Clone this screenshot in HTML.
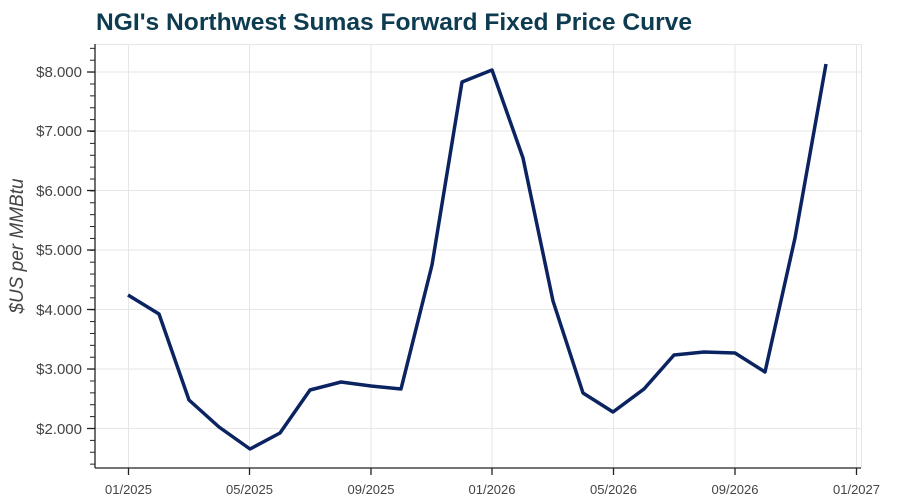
<!DOCTYPE html>
<html><head><style>
html,body{margin:0;padding:0;background:#fff;}
svg{display:block;font-family:"Liberation Sans",Arial,sans-serif;}
</style></head><body>
<svg width="900" height="502" viewBox="0 0 900 502" xmlns="http://www.w3.org/2000/svg">
<text x="96" y="30" font-size="24" font-weight="bold" fill="#0d3b4f" textLength="596" lengthAdjust="spacingAndGlyphs">NGI's Northwest Sumas Forward Fixed Price Curve</text>
<g stroke="#e6e6e6" stroke-width="1" fill="none">
<line x1="95" y1="44.5" x2="861" y2="44.5"/>
<line x1="861.5" y1="44" x2="861.5" y2="468"/>
<line x1="95" y1="72" x2="861" y2="72"/>
<line x1="95" y1="131" x2="861" y2="131"/>
<line x1="95" y1="190.5" x2="861" y2="190.5"/>
<line x1="95" y1="250" x2="861" y2="250"/>
<line x1="95" y1="309.5" x2="861" y2="309.5"/>
<line x1="95" y1="369" x2="861" y2="369"/>
<line x1="95" y1="428.5" x2="861" y2="428.5"/>
<line x1="128.5" y1="44" x2="128.5" y2="468"/>
<line x1="249.5" y1="44" x2="249.5" y2="468"/>
<line x1="371" y1="44" x2="371" y2="468"/>
<line x1="492" y1="44" x2="492" y2="468"/>
<line x1="613.5" y1="44" x2="613.5" y2="468"/>
<line x1="735" y1="44" x2="735" y2="468"/>
<line x1="856.5" y1="44" x2="856.5" y2="468"/>
</g>
<g stroke="#222" stroke-width="1.3">
<line x1="95" y1="44" x2="95" y2="468"/>
<line x1="95" y1="468" x2="861" y2="468"/>
<line x1="87" y1="72" x2="95" y2="72"/><line x1="87" y1="131" x2="95" y2="131"/><line x1="87" y1="190.5" x2="95" y2="190.5"/><line x1="87" y1="250" x2="95" y2="250"/><line x1="87" y1="309.5" x2="95" y2="309.5"/><line x1="87" y1="369" x2="95" y2="369"/><line x1="87" y1="428.5" x2="95" y2="428.5"/>
<line x1="128.5" y1="468" x2="128.5" y2="475"/><line x1="249.5" y1="468" x2="249.5" y2="475"/><line x1="371" y1="468" x2="371" y2="475"/><line x1="492" y1="468" x2="492" y2="475"/><line x1="613.5" y1="468" x2="613.5" y2="475"/><line x1="735" y1="468" x2="735" y2="475"/><line x1="856.5" y1="468" x2="856.5" y2="475"/>
</g>
<g stroke="#222" stroke-width="1" id="minor"></g>
<g font-size="15" fill="#444" text-anchor="end">
<text x="82" y="77">$8.000</text><text x="82" y="136">$7.000</text><text x="82" y="196">$6.000</text><text x="82" y="255">$5.000</text><text x="82" y="315">$4.000</text><text x="82" y="374">$3.000</text><text x="82" y="434">$2.000</text>
</g>
<g font-size="13" fill="#444" text-anchor="middle">
<text x="128.5" y="494">01/2025</text><text x="249.5" y="494">05/2025</text><text x="371" y="494">09/2025</text><text x="492" y="494">01/2026</text><text x="613.5" y="494">05/2026</text><text x="735" y="494">09/2026</text><text x="856.5" y="494">01/2027</text>
</g>
<text transform="translate(23,246) rotate(-90)" font-size="19" font-style="italic" fill="#444" text-anchor="middle">$US per MMBtu</text>
<polyline fill="none" stroke="#0b2461" stroke-width="3.5" stroke-linejoin="round" points="128,295 159,314 189,400 219,427 250,449 280,433 310,390 341,382 371,386 401,389 432,265 462,82 492,70 523,158 553,301 583,393 613,412 644,389 674,355 704,352 735,353 765,372 795,238 826,64"/>
<script>
var g=document.getElementById('minor');
for(var v=1.4;v<=8.5;v+=0.2){var y=428.5-(v-2)*59.4;if(y<44||y>468)continue;var l=document.createElementNS('http://www.w3.org/2000/svg','line');l.setAttribute('x1',90);l.setAttribute('x2',95);l.setAttribute('y1',y);l.setAttribute('y2',y);g.appendChild(l);}
</script>
</svg>
</body></html>
